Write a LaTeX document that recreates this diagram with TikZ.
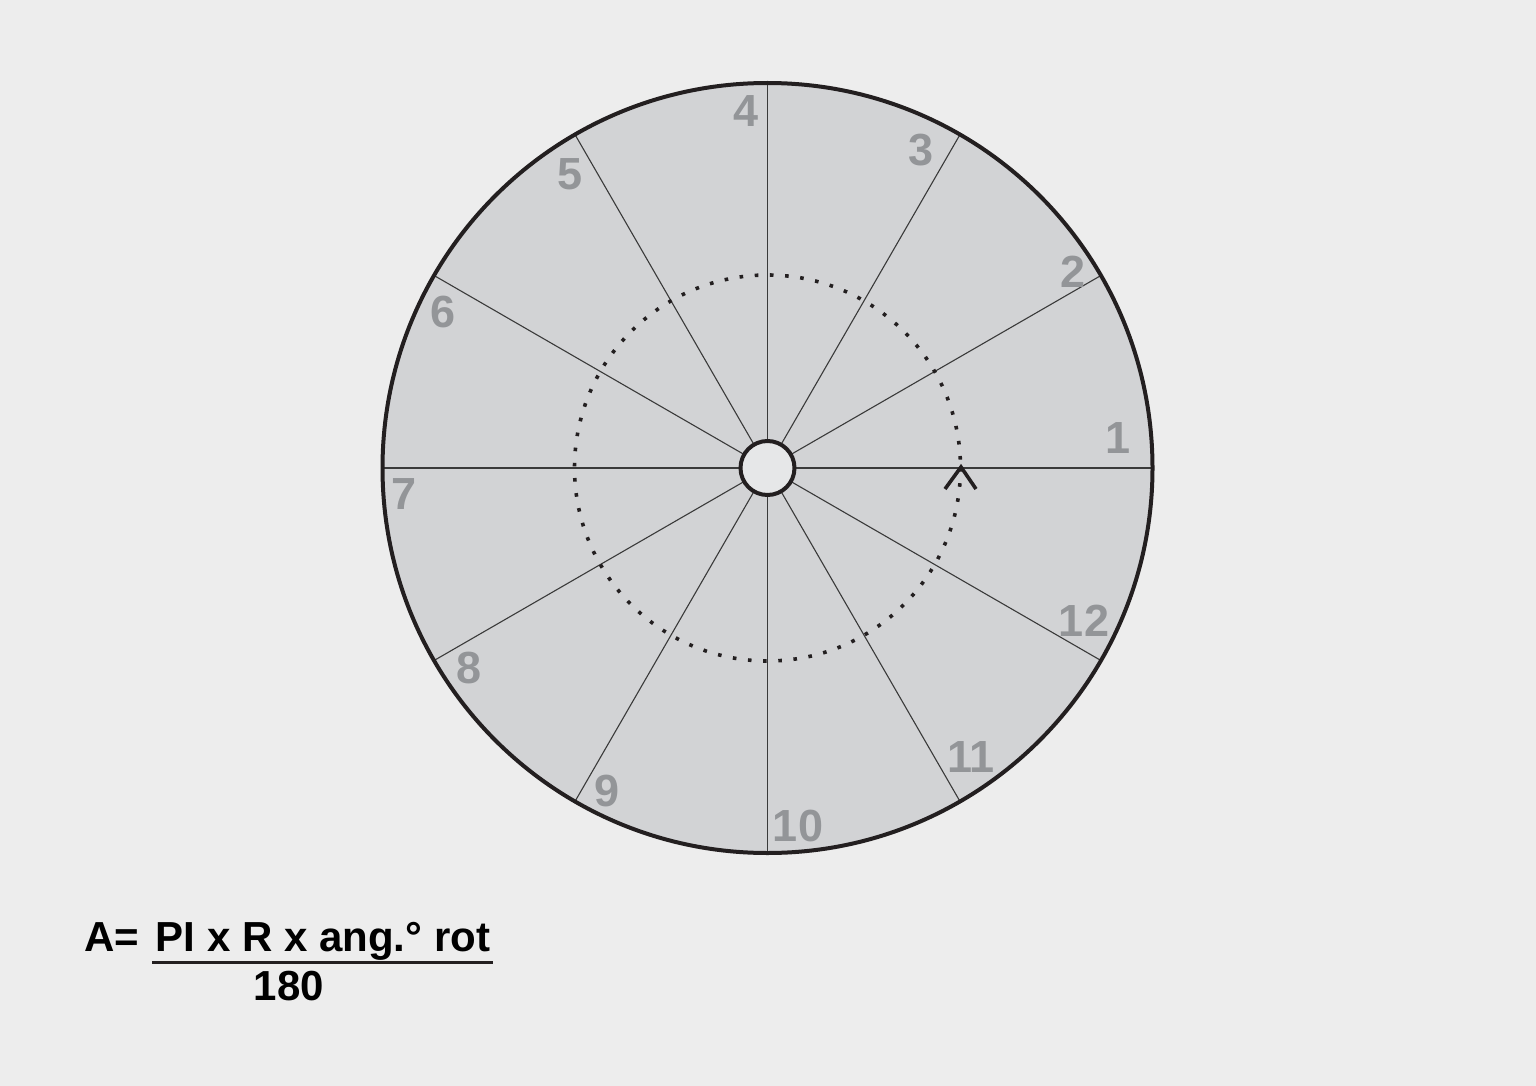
\documentclass[tikz,border=0pt]{standalone}
\usepackage{fontspec}
\setmainfont{Liberation Sans}
\begin{document}
\begin{tikzpicture}[x=1pt,y=-1pt,
  lbl/.style={text=numgray,font=\bfseries\fontsize{45}{50}\selectfont,inner sep=0pt},
  frm/.style={text=black,font=\bfseries\fontsize{42}{48}\selectfont,inner sep=0pt},
  spoke/.style={draw=spokegray,line width=1.1pt}]
\definecolor{bg}{HTML}{EDEDED}
\definecolor{disc}{HTML}{D2D3D5}
\definecolor{hubfill}{HTML}{E6E7E8}
\definecolor{numgray}{HTML}{939598}
\definecolor{spokegray}{HTML}{3A3A3A}
\definecolor{ink}{HTML}{231F20}
\fill[bg] (0,0) rectangle (1536,1086);
\useasboundingbox (0,0) rectangle (1536,1086);
\coordinate (c) at (767.5,468);
\fill[disc] (c) circle[radius=385];
\foreach \a in {0,30,...,330}{
  \draw[spoke] (c) -- ++({385*cos(\a)},{-385*sin(\a)});
}
\draw[ink,line width=3.6pt,dash pattern=on 3.6pt off 11.6pt] (c) circle[radius=193];
\draw[ink,line width=4pt] (c) circle[radius=385];
\node[circle,draw=ink,fill=hubfill,line width=4pt,minimum size=54pt,inner sep=0pt] (hub) at (c) {};
\coordinate (apex) at (961,467);
\draw[ink,line width=3.6pt] (945,489) -- (apex) -- (976,489);
\node[lbl] (n1) at (1118,438) {1};
\node[lbl] (n2) at (1073,272) {2};
\node[lbl] (n3) at (921,150) {3};
\node[lbl] (n4) at (746,111) {4};
\node[lbl] (n5) at (570,174) {5};
\node[lbl] (n6) at (443,312) {6};
\node[lbl] (n7) at (404,494) {7};
\node[lbl] (n8) at (469,668) {8};
\node[lbl] (n9) at (607,791) {9};
\node[lbl] (n10) at (798,826) {10};
\node[lbl] (n11) at (971,757) {11};
\node[lbl] (n12) at (1084,621) {12};
\node[frm,anchor=base west] (aeq) at (84,951) {A=};
\node[frm,anchor=base] (num) at (323,951) {PI x R x ang.° rot};
\draw[ink,line width=3pt] (152,962) -- (493,962);
\node[frm,anchor=base] (den) at (289,1000) {180};
\end{tikzpicture}
\end{document}
